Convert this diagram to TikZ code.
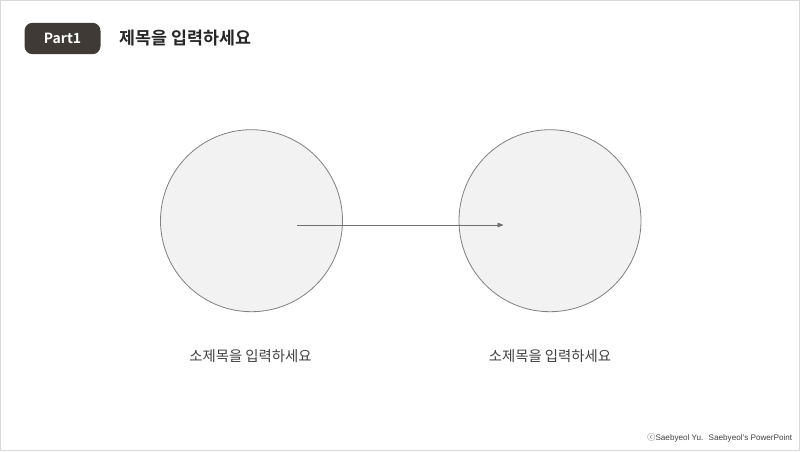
\documentclass[tikz,border=0pt]{standalone}
\usepackage{fontspec}
\setmainfont{Liberation Sans}
\newfontfamily\kr{Noto Sans CJK KR}
\newfontfamily\krbold{Noto Sans CJK KR Bold}
\usetikzlibrary{arrows.meta}
\definecolor{pill}{HTML}{3F3A36}
\definecolor{circfill}{HTML}{F2F2F2}
\definecolor{circline}{HTML}{7F7F7F}
\definecolor{arrowc}{HTML}{6E6E6E}
\definecolor{frame}{HTML}{D9D9D9}
\definecolor{titlec}{HTML}{262626}
\definecolor{subc}{HTML}{404040}
\tikzset{
  bubble/.style={circle, draw=circline, fill=circfill, line width=0.6pt, minimum size=136.5pt, inner sep=0pt},
  sublabel/.style={font=\kr\fontsize{10.8pt}{12pt}\selectfont, text=subc, inner sep=0pt},
  link/.style={draw=arrowc, line width=0.6pt, -{Triangle[length=4.5pt,width=3.5pt]}},
}
\begin{document}
\begin{tikzpicture}[x=0.75pt,y=-0.75pt]
\path[draw=frame, line width=0.75pt] (0.5,0.5) rectangle (799.5,450.5);
\useasboundingbox (0,0) rectangle (800,451);
\node[fill=pill, rounded corners=6pt, minimum width=57pt, minimum height=23.5pt, inner sep=0pt,
      text=white, font=\krbold\fontsize{10.5pt}{12pt}\selectfont] (part) at (62.5,38.5) {Part1};
\node[anchor=west, inner sep=0pt, text=titlec, font=\krbold\fontsize{13pt}{15pt}\selectfont] (title) at (119.5,38.5) {제목을 입력하세요};
\node[bubble] (c1) at (251.5,220.7) {};
\node[bubble] (c2) at (550,220.7) {};
\coordinate (s) at (297,225);
\coordinate (e) at (503.5,225);
\draw[link] (s) -- (e);
\node[sublabel] (l1) at (250.5,356) {소제목을 입력하세요};
\node[sublabel] (l2) at (550,356) {소제목을 입력하세요};
\node[anchor=east, inner sep=0pt, text=subc, font=\fontsize{6.1pt}{7pt}\selectfont] (copy) at (792.5,437.5) {{\kr ⓒ}Saebyeol Yu.~ Saebyeol's PowerPoint};
\end{tikzpicture}
\end{document}
